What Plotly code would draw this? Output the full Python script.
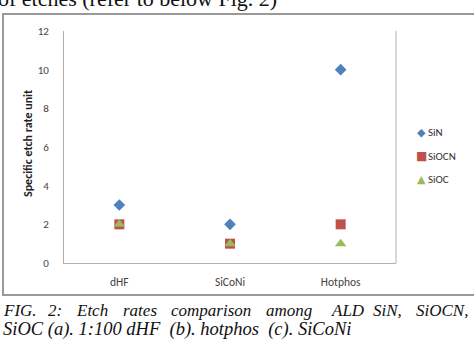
import plotly.graph_objects as go

categories = ["dHF", "SiCoNi", "Hotphos"]
series_names = ["SiN", "SiOCN", "SiOC"]
sin_vals = [3, 2, 10]
siocn_vals = [2, 1, 2]
sioc_vals = [2, 1, 1]
y_ticks = [0, 2, 4, 6, 8, 10, 12]

W, H = 474, 341
L, R, T, B = 64, 396, 31, 263

def xp(px):
    return (px - L) / (R - L)

def yp(py):
    return (B - py) / (B - T)

CAL = "Carlito, Lato, 'Open Sans', sans-serif"
SERIF = "'Liberation Serif', 'Times New Roman', serif"
SYM = "'DejaVu Sans', sans-serif"

colors = ["#4F81BD", "#C0504D", "#9BBB59"]
symbols = ["diamond", "square", "triangle-up"]
sizes = [9, 10, 10]
glyphs = ["\u25C6", "\u25A0", "\u25B2"]
glyph_sizes = [11, 12, 11]

fig = go.Figure()
for name, vals, sym, col, sz in zip(series_names, [sin_vals, siocn_vals, sioc_vals], symbols, colors, sizes):
    fig.add_trace(go.Scatter(
        x=categories, y=vals, mode="markers", name=name,
        marker=dict(symbol=sym, color=col, size=sz, line=dict(width=0)),
    ))

fig.update_layout(
    width=W, height=H,
    margin=dict(l=L, r=W - R, t=T, b=H - B, pad=0),
    paper_bgcolor="white", plot_bgcolor="white",
    showlegend=False,
    xaxis=dict(
        type="category", categoryorder="array", categoryarray=categories,
        range=[-0.5, 2.5], showgrid=False, zeroline=False,
        showline=True, linecolor="#b0b0b0", linewidth=1,
        ticks="", tickfont=dict(family=CAL, size=11.5, color="#444"),
        ticklabelstandoff=8,
    ),
    yaxis=dict(
        range=[0, 12], tickvals=y_ticks, showgrid=False, zeroline=False,
        showline=True, linecolor="#b0b0b0", linewidth=1,
        ticks="", tickfont=dict(family=CAL, size=11, color="#444"),
        ticklabelstandoff=12,
    ),
)

shapes = [
    dict(type="line", xref="paper", yref="paper", x0=1, x1=1, y0=0, y1=1,
         line=dict(color="#b0b0b0", width=1)),
    dict(type="rect", xref="paper", yref="paper", x0=xp(3), x1=xp(480), y0=yp(295), y1=yp(14),
         line=dict(color="#999999", width=2), fillcolor="rgba(0,0,0,0)", layer="below"),
]
fig.update_layout(shapes=shapes)

ann = []
legend_y = [132, 156, 180]
for name, col, g, gs, ly in zip(series_names, colors, glyphs, glyph_sizes, legend_y):
    ann.append(dict(text=g, xref="paper", yref="paper", x=xp(421), y=yp(ly),
                    showarrow=False, xanchor="center", yanchor="middle", borderpad=0,
                    font=dict(family=SYM, size=gs, color=col)))
    ann.append(dict(text=name, xref="paper", yref="paper", x=xp(427), y=yp(ly),
                    showarrow=False, xanchor="left", yanchor="middle", borderpad=0,
                    font=dict(family=CAL, size=11, color="#333")))

ann.append(dict(text="<b>Specific etch rate unit</b>", xref="paper", yref="paper",
                x=xp(28), y=yp(144), textangle=-90, showarrow=False,
                font=dict(family=CAL, size=12, color="#222"),
                xanchor="center", yanchor="middle"))
ann.append(dict(text="of etches (refer to below Fig. 2)", xref="paper", yref="paper",
                x=xp(-3), y=yp(-1.5), showarrow=False, xanchor="left", yanchor="middle", borderpad=0,
                font=dict(family=SERIF, size=22, color="#111")))

line1 = [("FIG.", 3), ("2:", 48), ("Etch", 76), ("rates", 123), ("comparison", 171),
         ("among", 266), ("ALD", 331), ("SiN,", 373), ("SiOCN,", 416)]
for w, px in line1:
    ann.append(dict(text="<i>" + w + "</i>", xref="paper", yref="paper", x=xp(px - 1), y=yp(310),
                    showarrow=False, xanchor="left", yanchor="middle", borderpad=0,
                    font=dict(family=SERIF, size=17, color="#111")))
ann.append(dict(text="<i>SiOC (a). 1:100 dHF&nbsp;&nbsp;(b). hotphos&nbsp;&nbsp;(c). SiCoNi</i>",
                xref="paper", yref="paper", x=xp(2), y=yp(329),
                showarrow=False, xanchor="left", yanchor="middle", borderpad=0,
                font=dict(family=SERIF, size=18.5, color="#111")))
fig.update_layout(annotations=ann)

fig.write_html("out.html")
